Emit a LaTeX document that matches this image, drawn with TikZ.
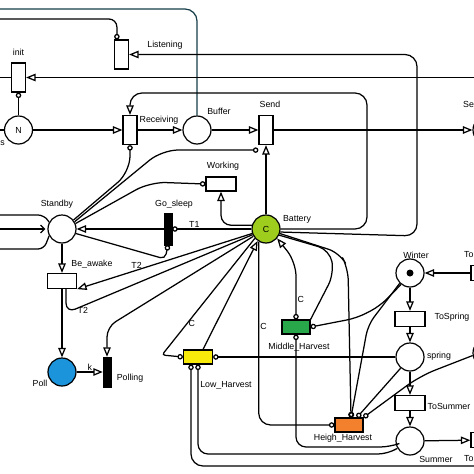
\documentclass[tikz,border=0pt]{standalone}
\usepackage{fontspec}
\setmainfont{Liberation Sans}
\usetikzlibrary{arrows.meta}
\definecolor{batterygreen}{RGB}{158,205,30}
\definecolor{pollblue}{RGB}{28,148,220}
\definecolor{lowyellow}{RGB}{248,234,10}
\definecolor{midgreen}{RGB}{40,168,74}
\definecolor{heighorange}{RGB}{242,128,44}
\definecolor{topteal}{RGB}{22,62,72}
\tikzset{
  place/.style={circle, draw, line width=1.2pt, minimum size=28pt, inner sep=0pt},
  vtrans/.style={rectangle, draw, line width=1.2pt, minimum width=14pt, minimum height=29pt, inner sep=0pt},
  htrans/.style={rectangle, draw, line width=1.2pt, minimum width=30pt, minimum height=15pt, inner sep=0pt},
  bar/.style={rectangle, draw, fill=black, minimum width=8pt, minimum height=32pt, inner sep=0pt},
  link/.style={line width=1.25pt},
  arc/.style={link, -{Triangle[open, length=9.5pt, width=7.5pt]}},
  test/.style={link, -{Circle[open, length=5.5pt]}},
  lbl/.style={inner sep=1pt},
}

\begin{document}
\begin{tikzpicture}[x=1pt, y=-1pt, font=\fontsize{8.8}{10}\selectfont]
\useasboundingbox (0,0) rectangle (474,474);
%%%%%%%%%%%%%%%%%%

%Places
\node[place] (N) at (18.5,130) {N};
\node[place] (Buffer) at (197,130) {};
\node[place] (SendOut) at (487,130) {};
\node[place] (Standby) at (62,229) {};
\node[place, fill=batterygreen] (Battery) at (266,229) {C};
\node[place, fill=pollblue] (Poll) at (62,372) {};
\node[place] (Winter) at (410,273) {};
\node[place] (spring) at (410,357) {};
\node[place] (Summer) at (410,441) {};
\node[place] (SpringOut) at (487,353) {};
\fill (Winter) circle (3.5pt);

%Transitions
\node[vtrans] (init) at (18.5,77.5) {};
\node[vtrans] (Listening) at (121.5,54.5) {};
\node[vtrans] (Receiving) at (130,130) {};
\node[vtrans] (Send) at (266,130) {};
\node[htrans, minimum height=14pt] (Working) at (221,184) {};
\node[htrans, minimum width=29pt] (BeAwake) at (62,281) {};
\node[bar] (GoSleep) at (168,229) {};
\node[bar, minimum height=30pt] (Polling) at (107,372) {};
\node[htrans, fill=lowyellow, minimum width=29pt, minimum height=14pt] (LowH) at (198,357) {};
\node[htrans, fill=midgreen, minimum width=28pt, minimum height=14pt] (MidH) at (296,327) {};
\node[htrans, fill=heighorange, minimum width=28pt, minimum height=14pt] (HeighH) at (349,425) {};
\node[htrans] (ToSpring) at (410,319) {};
\node[htrans] (ToSummer) at (410,403) {};
\node[htrans] (ToWinterR) at (486,273) {};
\node[htrans] (ToSummerR) at (486,440) {};

%Labels
\node[lbl] (initL) at (18.5,52) {init};
\node[lbl] (ListeningL) at (165,45) {Listening};
\node[lbl, anchor=east] (tokL) at (6,143) {s};
\node[lbl] (ReceivingL) at (159,120) {Receiving};
\node[lbl] (BufferL) at (219,111) {Buffer};
\node[lbl] (SendL) at (270,104) {Send};
\node[lbl, anchor=west] (SeL) at (462,104) {Se};
\node[lbl] (WorkingL) at (223,166) {Working};
\node[lbl] (StandbyL) at (57,204) {Standby};
\node[lbl] (GoSleepL) at (174,204) {Go\_sleep};
\node[lbl] (BatteryL) at (297,219) {Battery};
\node[lbl] (BeAwakeL) at (92,264) {Be\_awake};
\node[lbl] (PollL) at (40,383) {Poll};
\node[lbl] (PollingL) at (130,378) {Polling};
\node[lbl] (LowHL) at (226,385) {Low\_Harvest};
\node[lbl] (MidHL) at (299,347) {Middle\_Harvest};
\node[lbl] (HeighHL) at (343,438) {Heigh\_Harvest};
\node[lbl] (WinterL) at (416,255) {Winter};
\node[lbl] (ToSpringL) at (452,317) {ToSpring};
\node[lbl] (springL) at (439,356) {spring};
\node[lbl] (ToSummerL) at (449,406) {ToSummer};
\node[lbl] (SummerL) at (436,459) {Summer};
\node[lbl, anchor=west] (ToWL) at (463,255) {To};
\node[lbl, anchor=west] (ToSL) at (463,459) {To};

%Free ends
\coordinate (top1) at (0,9);
\coordinate (top2) at (0,19);
\coordinate (initW) at (0,77.5);
\coordinate (initE) at (474,77.5);
\coordinate (nW) at (0,130);
\coordinate (sbA) at (0,215);
\coordinate (sbB) at (0,229);
\coordinate (sbC) at (0,249);
\coordinate (lowE) at (474,466);

%Upper arcs
\draw[link, color=topteal, rounded corners=12pt] (top1) -| (Buffer.north);
\draw[test, rounded corners=8pt] (top2) -| ([xshift=3pt]Listening.north west);
\draw[link] (initW) -- (init.west);
\draw[arc] (initE) -- (init.east);
\draw[test] (N) -- (init);
\draw[link] (nW) -- (N.west);
\draw[arc] (N) -- (Receiving);
\draw[arc] (Receiving) -- (Buffer);
\draw[arc] (Buffer) -- (Send);
\draw[arc] (Send) -- (SendOut);
\draw[arc, rounded corners=12pt] (Battery.-12) -- (417,236) |- (Listening.east);
\draw[arc, rounded corners=12pt] (Battery.east) -- (367,229) |- (130,93) -- (Receiving.north);
\draw[arc] (Battery) -- (Send);

%Standby
\draw[test, rounded corners=16pt] (Standby.38) -- (130,172) -- (Receiving.south);
\draw[test, rounded corners=16pt] (Standby.30) -- (162,150) -- ([yshift=-5pt]Send.south west);
\draw[test, rounded corners=16pt] (Standby.22) -- (150,182) -- (Working.west);
\draw[arc, rounded corners=10pt] (Battery.165) -| (Working.south);
\draw[arc] (GoSleep) -- (Standby);
\draw[test] (Battery) -- node[lbl, pos=0.72, above] (T1L) {T1} (GoSleep);
\draw[test, rounded corners=5pt] (Standby.-18) -- (165,259) -- (GoSleep.south);
\draw[link, rounded corners=6pt] (sbA) -- (44,215) -- (Standby.152);
\draw[link, -{Straight Barb[length=4pt, width=8pt]}, shorten >=2pt] (sbB) -- (Standby.west);
\draw[link, rounded corners=6pt] (sbC) -- (44,249) -- (Standby.-152);
\draw[arc] (Standby) -- (BeAwake);
\draw[arc] (Battery.198) -- node[lbl, pos=0.66, above] (T2aL) {T2} (BeAwake.south east);
\draw[link, rounded corners=10pt] ([xshift=4pt]BeAwake.south) -- (66,313) -- node[lbl, pos=0.09, below] (T2bL) {T2} (Battery.203);
\draw[arc] (BeAwake) -- (Poll);
\draw[arc, rounded corners=10pt] (Battery.210) -- (107,327) -- (Polling.north);
\draw[arc] (Poll) -- node[lbl, above] (kL) {k} (Polling);

%Harvest
\draw[test, rounded corners=3pt] (Battery.220) -- node[lbl, pos=0.73, right] (C1L) {C} (162,355) -- (LowH.west);
\draw[arc] ([xshift=5pt]LowH.north) -- (Battery.235);
\draw[test, rounded corners=12pt] (Battery.240) |- node[lbl, pos=0.23, right] (C2L) {C} (HeighH.west);
\draw[link, {Circle[open, length=5.5pt]}-{Triangle[open, length=9.5pt, width=7.5pt]}, rounded corners=14pt] (MidH.north) -- node[lbl, pos=0.34, right] (C3L) {C} (296,262) -- (Battery.-40);
\draw[link, rounded corners=12pt] (MidH.north east) -- (334,274) -- (330,250) -- (Battery.-25);
\draw[test, rounded corners=12pt] (Battery.-18) -- (340,253) -- (348,268) -- ([xshift=2pt]HeighH.north);
\draw[test, rounded corners=10pt] (Winter.-128) -- (380,306) -- (357,318) -- (MidH.east);
\draw[test, rounded corners=10pt] (Winter.-135) -- (384,304) -- (368,325) -- ([xshift=2pt]HeighH.north);
\draw[test] (spring.-130) -- ([xshift=8pt]HeighH.north);
\draw[test, rounded corners=16pt] (SpringOut.190) -- (420,376) -- (HeighH.north east);
\draw[test] (spring.west) -- (LowH.east);
\draw[test, rounded corners=12pt] (lowE) -| ([xshift=-7pt]LowH.south);
\draw[test, rounded corners=10pt] (Summer.-150) -- (388,454) -| (LowH.south);
\draw[test, rounded corners=10pt] (Summer.-165) -- (390,447) -| (MidH.south);

%Seasons
\foreach \a/\b in {ToWinterR/Winter, Winter/ToSpring, ToSpring/spring, spring/ToSummer, ToSummer/Summer, Summer/ToSummerR}
{
	\draw[arc] (\a) -- (\b);
}
\end{tikzpicture}
\end{document}
